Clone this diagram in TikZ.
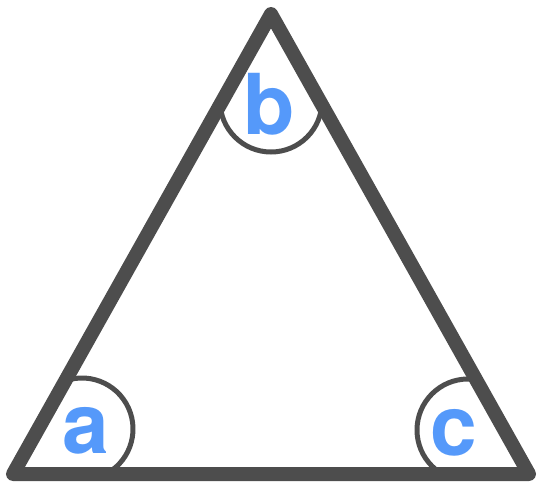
\documentclass[tikz,border=0pt]{standalone}
\usepackage{fontspec}
\setmainfont{TeX Gyre Heros}
\definecolor{linegray}{HTML}{4D4D4D}
\definecolor{letterblue}{HTML}{5599FA}

\begin{document}
\begin{tikzpicture}[x=1pt, y=-1pt,
    side/.style = {draw=linegray, line width=14pt, line join=round},
    markarc/.style = {draw=linegray, line width=5pt},
    letter/.style = {inner sep=0pt, text=letterblue, font=\fontsize{84}{84}\selectfont\bfseries}]
    \useasboundingbox (0,0) rectangle (541,485);

    \coordinate (A) at (13,474);
    \coordinate (B) at (271,14);
    \coordinate (C) at (529,474);

    % centres of the angle marks
    \coordinate (ca) at (82,429);
    \coordinate (cb) at (271,101);
    \coordinate (cc) at (468,430);

    \node[letter] (a) at (86,431) {a};
    \node[letter] (b) at (269,104) {b};
    \node[letter] (c) at (454,433) {c};

    \begin{scope}
        \clip (A) -- (B) -- (C) -- cycle;
        \path[markarc] ([shift={(-120:51)}]ca) arc[start angle=-120, end angle=90, radius=51];
        \path[markarc] ([shift={(0:51)}]cb) arc[start angle=0, end angle=180, radius=51];
        \path[markarc] ([shift={(90:51)}]cc) arc[start angle=90, end angle=300, radius=51];
    \end{scope}

    \path[side] (A) -- (B) -- (C) -- cycle;
\end{tikzpicture}
\end{document}
